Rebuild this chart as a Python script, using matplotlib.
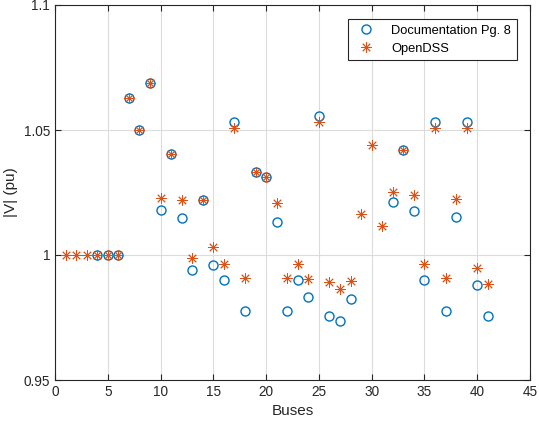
import numpy as np
import matplotlib.pyplot as plt

plt.rcParams['font.family'] = ['Liberation Sans', 'DejaVu Sans']

# bus voltages
doc_buses = [4, 5, 6, 7, 8, 9, 10, 11, 12, 13, 14, 15, 16, 17, 18, 19, 20, 21, 22,
             23, 24, 25, 26, 27, 28, 32, 33, 34, 35, 36, 37, 38, 39, 40, 41]
doc_v = [1.0, 1.0, 1.0, 1.0627, 1.05, 1.0689, 1.018, 1.0404, 1.0149, 0.994, 1.022,
         0.996, 0.990, 1.0533, 0.9776, 1.0331, 1.0312, 1.0132, 0.9776,
         0.990, 0.9833, 1.0556, 0.9755, 0.9736, 0.9825, 1.0211, 1.042, 1.0176,
         0.990, 1.0532, 0.9776, 1.0153, 1.0532, 0.9881, 0.9755]

dss_buses = list(range(1, 42))
dss_v = [1.0, 1.0, 1.0, 1.0, 1.0, 1.0, 1.0627, 1.05, 1.0689, 1.0229, 1.0404, 1.022,
         0.9987, 1.022, 1.0032, 0.9964, 1.0509, 0.9908, 1.0331, 1.0312, 1.0207,
         0.9908, 0.9964, 0.9904, 1.0531, 0.9891, 0.9864, 0.9896, 1.0163, 1.0439,
         1.0117, 1.0253, 1.042, 1.0241, 0.9964, 1.0509, 0.9908, 1.0224, 1.0509,
         0.9948, 0.9885]

xticks = [0, 5, 10, 15, 20, 25, 30, 35, 40, 45]
yticks = [0.95, 1.0, 1.05, 1.1]
ytick_labels = ['0.95', '1', '1.05', '1.1']

fig = plt.figure(figsize=(5.39, 4.26), dpi=100)
ax = fig.add_axes([55 / 539, 1 - 380 / 426, 475 / 539, 375 / 426])

ax.plot(doc_buses, doc_v, linestyle='none', marker='o', markersize=6.5,
        markerfacecolor='none', markeredgecolor='#0072BD', markeredgewidth=1.0,
        label='Documentation Pg. 8')
ax.plot(dss_buses, dss_v, linestyle='none', marker=(8, 2, 0), markersize=7.5,
        markeredgecolor='#D95319', color='#D95319', markeredgewidth=0.65,
        label='OpenDSS')

ax.set_xlim(0, 45)
ax.set_ylim(0.95, 1.1)
ax.set_xticks(xticks)
ax.set_yticks(yticks)
ax.set_yticklabels(ytick_labels)
ax.grid(True, color='#dcdcdc', linewidth=0.8)
ax.set_axisbelow(True)
ax.tick_params(direction='in', top=True, right=True, labelsize=9.8,
               colors='#262626', length=4)
for s in ax.spines.values():
    s.set_color('#262626')
    s.set_linewidth(0.8)

ax.set_xlabel('Buses', fontsize=11, color='#262626')
ax.set_ylabel('|V| (pu)', fontsize=11, color='#262626')

leg = ax.legend(loc='upper right', bbox_to_anchor=(0.972, 0.963), fontsize=9.3,
                fancybox=False, edgecolor='#262626', framealpha=1,
                borderaxespad=0, handletextpad=0.9, labelspacing=0.45,
                handlelength=2.0, borderpad=0.45)
leg.get_frame().set_linewidth(0.8)

fig.savefig('out.png', dpi=100)
